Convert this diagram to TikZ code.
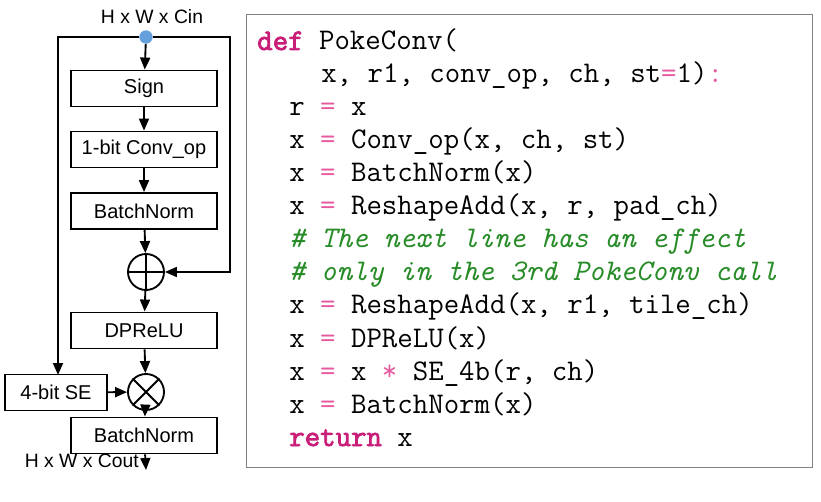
\documentclass[tikz,border=0pt]{standalone}
\usepackage{fontspec}
\setmainfont{Liberation Sans}
\setmonofont[BoldFont={Latin Modern Mono},BoldFeatures={FakeBold=2.5}]{Latin Modern Mono}
\usetikzlibrary{arrows.meta}
\definecolor{kw}{RGB}{200,30,120}
\definecolor{op}{RGB}{230,90,160}
\definecolor{cm}{RGB}{40,140,40}
\begin{document}
\begin{tikzpicture}[x=0.75pt,y=-0.75pt,
  blk/.style={draw,line width=1.4pt,minimum width=110pt,minimum height=27pt,inner sep=0pt,font=\fontsize{15}{17}\selectfont},
  circ/.style={draw,line width=1.4pt,circle,minimum size=27pt,inner sep=0pt},
  arr/.style={line width=1.4pt,-{Triangle[length=9pt,width=7.5pt]}},
  ln/.style={line width=1.4pt},
  code/.style={anchor=base west,inner sep=0pt,font=\ttfamily\fontsize{22.5}{24}\selectfont}]
\useasboundingbox (0,0) rectangle (821,502);
% left diagram
\node[circle,fill={rgb,255:red,100;green,160;blue,220},minimum size=10pt,inner sep=0pt] (in) at (146,37) {};
\node[font=\fontsize{14.5}{16}\selectfont] (lin) at (152,17) {H x W x Cin};
\node[blk] (sign) at (144,88.5) {Sign};
\node[blk] (conv) at (144,149.5) {1-bit Conv\_op};
\node[blk] (bn1) at (144,211) {BatchNorm};
\node[circ] (add) at (146,272) {};
\draw[ln] (add.north)--(add.south) (add.west)--(add.east);
\node[blk] (dp) at (144,330.5) {DPReLU};
\node[circ] (mul) at (146,392) {};
\draw[ln] (mul.north west)--(mul.south east) (mul.north east)--(mul.south west);
\node[blk,minimum width=76pt] (se) at (56,392.5) {4-bit SE};
\node[blk] (bn2) at (144,435.5) {BatchNorm};
\coordinate (out) at (146,470);
\node[font=\fontsize{14.5}{16}\selectfont,anchor=east,inner sep=0pt] (lout) at (139,461) {H x W x Cout};
\draw[arr] (in)--(sign);
\draw[arr] (sign)--(conv);
\draw[arr] (conv)--(bn1);
\draw[arr] (bn1)--(add);
\draw[arr] (add)--(dp);
\draw[arr] (dp)--(mul);
\draw[arr] (mul)--(bn2);
\draw[arr] (bn2)--(out);
\draw[arr] (se)--(mul);
\draw[arr] (in) -| (230,272) -- (add);
\draw[arr] (in) -| (58,375);
% code box
\node[draw=gray,line width=0.8pt,minimum width=424.5pt,minimum height=339.75pt,inner sep=0pt,anchor=north west] (box) at (246,14) {};
\node[code] (l1) at (257,50) {\textcolor{kw}{\textbf{def}} PokeConv(};
\node[code] (l2) at (321,83) {x, r1, conv\_op, ch, st\textcolor{op}{=}1)\textcolor{op}{:}};
\node[code] (l3) at (289,116) {r \textcolor{op}{=} x};
\node[code] (l4) at (289,149) {x \textcolor{op}{=} Conv\_op(x, ch, st)};
\node[code] (l5) at (289,182) {x \textcolor{op}{=} BatchNorm(x)};
\node[code] (l6) at (289,215) {x \textcolor{op}{=} ReshapeAdd(x, r, pad\_ch)};
\node[code] (l7) at (289,248) {\textcolor{cm}{\itshape \# The next line has an effect}};
\node[code] (l8) at (289,281) {\textcolor{cm}{\itshape \# only in the 3rd PokeConv call}};
\node[code] (l9) at (289,314) {x \textcolor{op}{=} ReshapeAdd(x, r1, tile\_ch)};
\node[code] (l10) at (289,347) {x \textcolor{op}{=} DPReLU(x)};
\node[code] (l11) at (289,380) {x \textcolor{op}{=} x \textcolor{op}{*} SE\_4b(r, ch)};
\node[code] (l12) at (289,413) {x \textcolor{op}{=} BatchNorm(x)};
\node[code] (l13) at (289,446) {\textcolor{kw}{\textbf{return}} x};
\end{tikzpicture}
\end{document}
